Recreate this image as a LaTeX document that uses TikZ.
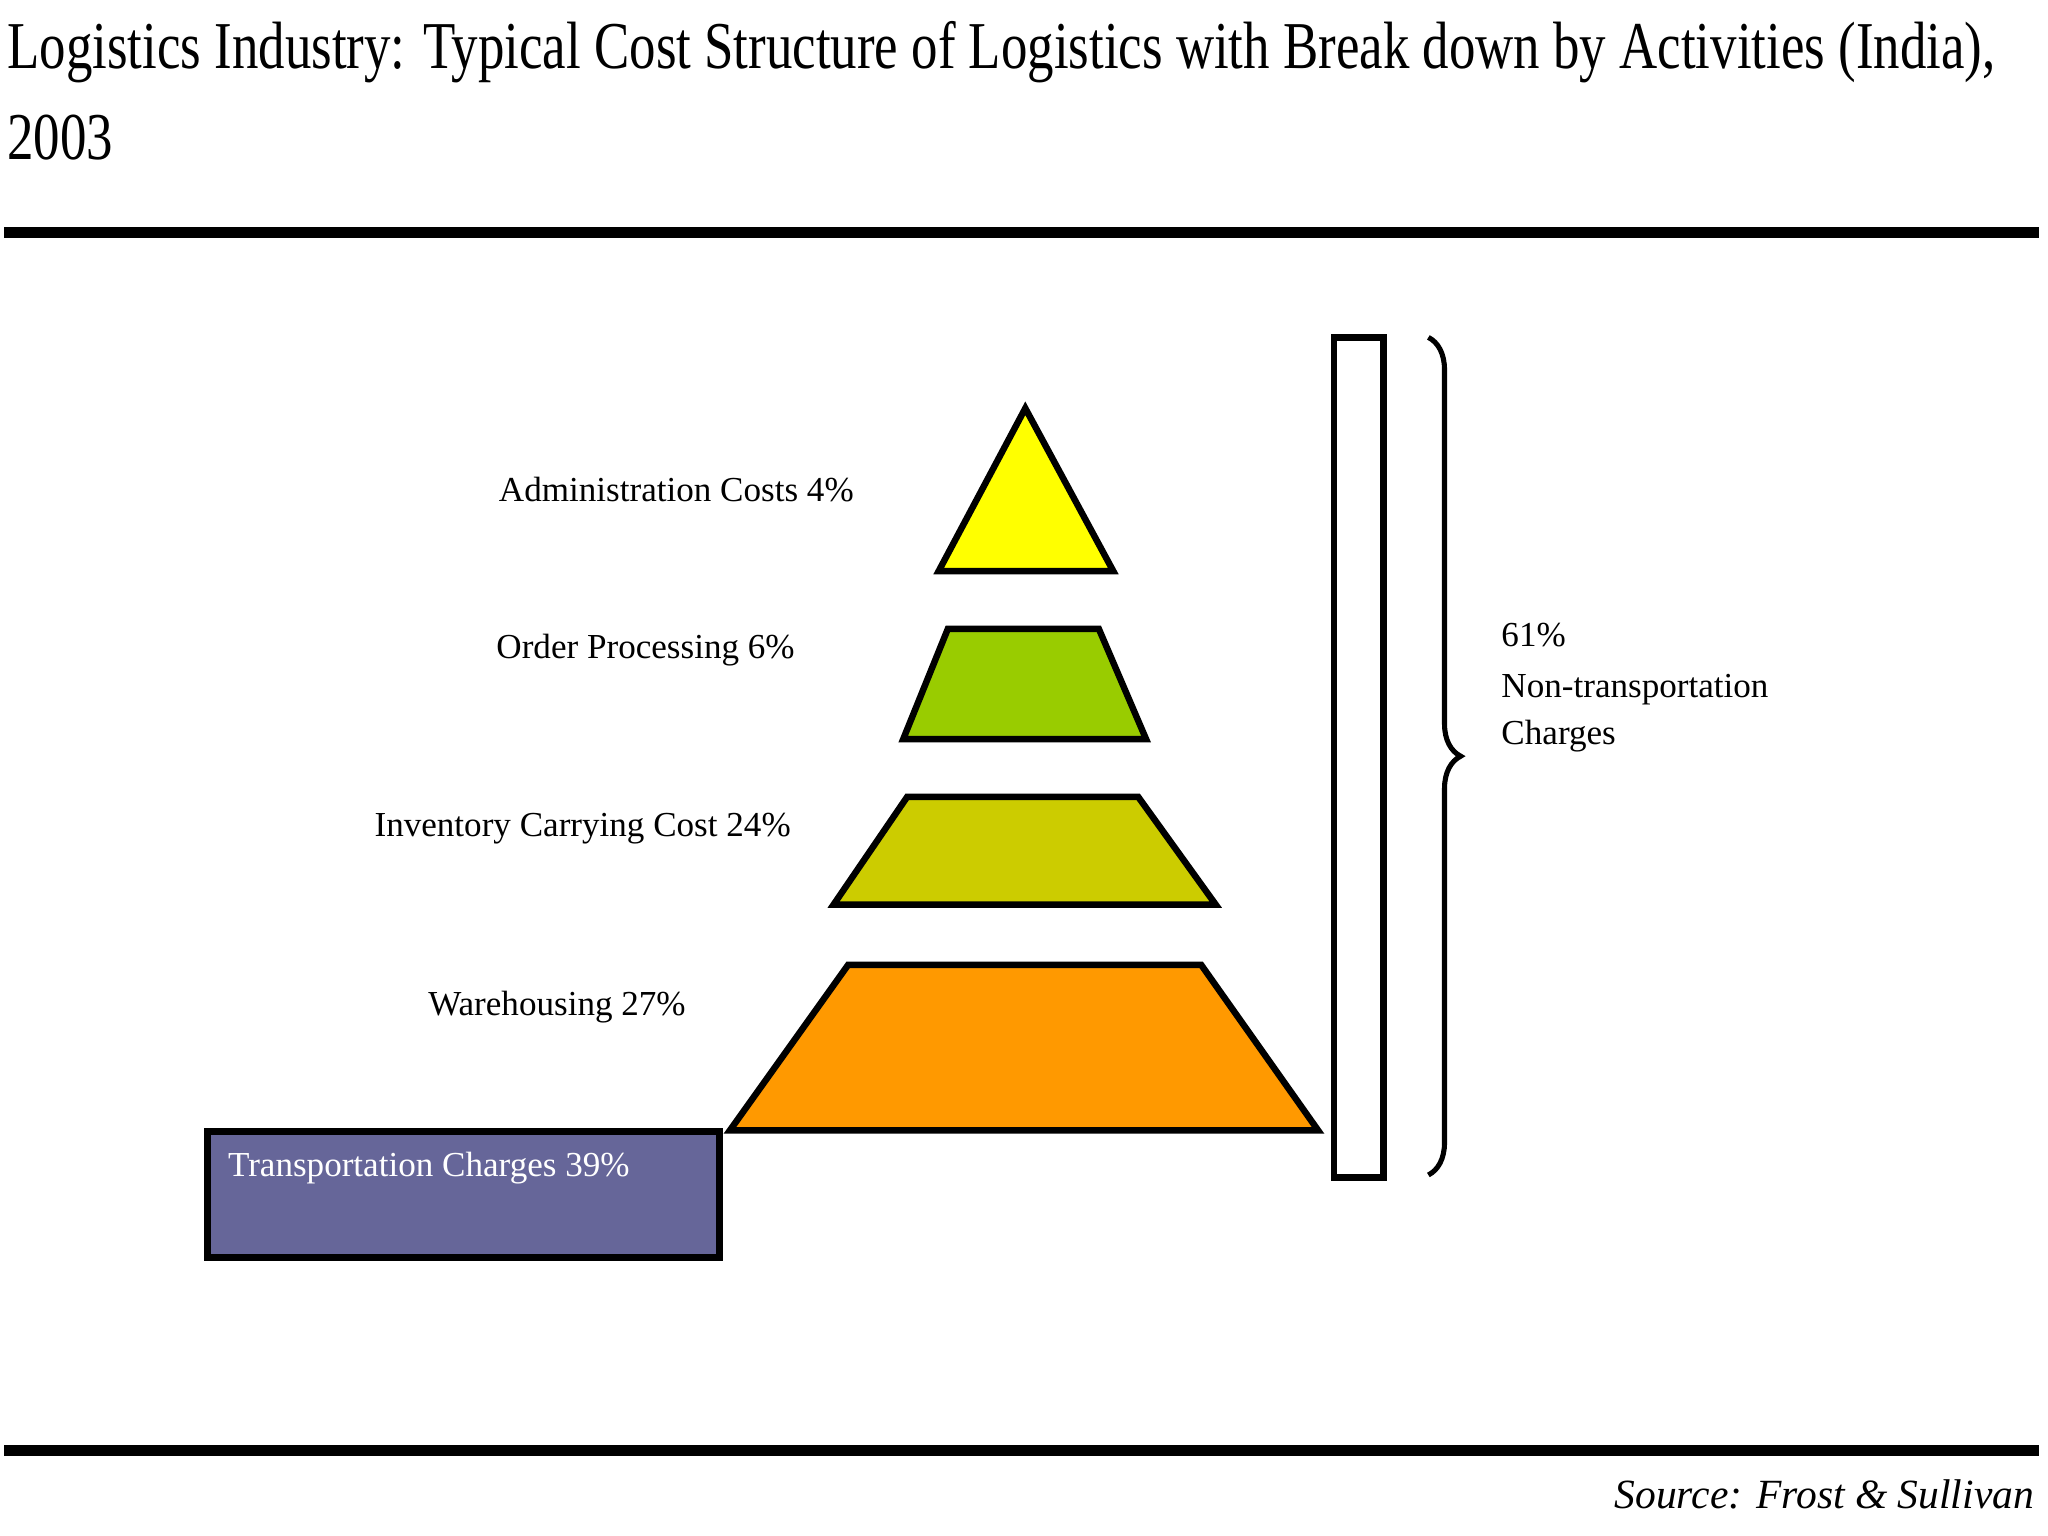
\documentclass[tikz,border=0pt]{standalone}
\usepackage{fontspec}
\setmainfont{Liberation Serif}
\usetikzlibrary{decorations.pathreplacing}
\begin{document}
\begin{tikzpicture}[x=0.01cm,y=-0.01cm,
  shp/.style={draw=black,line width=1.4pt,line join=miter},
  lbl/.style={font=\fontsize{7.6}{10}\selectfont,inner sep=0pt}]
\useasboundingbox (0,0) rectangle (1560,1170);
\node[anchor=west,inner sep=0pt,font=\fontsize{14.5}{17}\selectfont] (t1) at (5,40) {\scalebox{0.79}[1]{Logistics Industry: Typical Cost Structure of Logistics with Break down by Activities (India),}};
\node[anchor=west,inner sep=0pt,font=\fontsize{14.5}{17}\selectfont] (t2) at (5,105) {\scalebox{0.79}[1]{2003}};
\fill (3,173) rectangle (1553,181);
\fill (3,1101) rectangle (1553,1109);
\node[anchor=east,inner sep=0pt,font=\fontsize{9}{11}\selectfont\itshape] (src) at (1550,1138) {Source: Frost \& Sullivan};
\draw[shp,fill={rgb,255:red,255;green,255;blue,0}] (781,311) -- (848,435) -- (715,435) -- cycle;
\draw[shp,fill={rgb,255:red,153;green,204;blue,0}] (722,479) -- (837,479) -- (873,563) -- (688,563) -- cycle;
\draw[shp,fill={rgb,255:red,204;green,204;blue,0}] (691,607) -- (867,607) -- (926,689) -- (635,689) -- cycle;
\draw[shp,fill={rgb,255:red,255;green,153;blue,0}] (646,735) -- (915,735) -- (1004,861) -- (556,861) -- cycle;
\draw[shp,fill={rgb,255:red,102;green,102;blue,153}] (158,862) rectangle (548,958);
\node[lbl,anchor=west,text=white] (tr) at (173,890) {Transportation Charges 39\%};
\draw[shp,fill=white] (1016,257) rectangle (1054,897);
\draw[line width=1.1pt,decorate,decoration={brace,amplitude=7pt}] (1088,257) -- (1088,895);
\node[lbl,anchor=east] (a) at (651,373) {Administration Costs 4\%};
\node[lbl,anchor=east] (o) at (606,495) {Order Processing 6\%};
\node[lbl,anchor=east] (i) at (603,631) {Inventory Carrying Cost 24\%};
\node[lbl,anchor=east] (w) at (523,767) {Warehousing 27\%};
\node[lbl,anchor=west] (n1) at (1143,484) {61\%};
\node[lbl,anchor=west] (n2) at (1143,525) {Non-transportation};
\node[lbl,anchor=west] (n3) at (1143,561) {Charges};
\end{tikzpicture}
\end{document}
